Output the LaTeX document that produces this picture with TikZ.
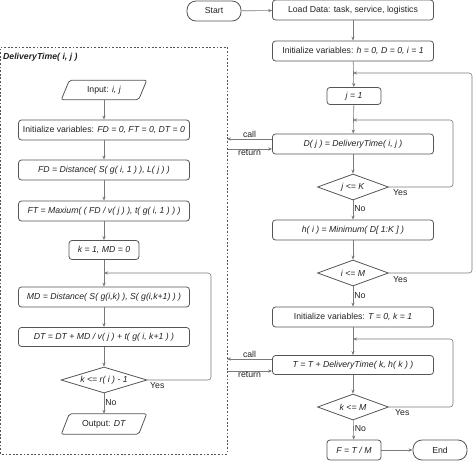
\documentclass[tikz,border=0pt]{standalone}
\usepackage{fontspec}
\setmainfont{Liberation Sans}
\usetikzlibrary{arrows.meta,shapes.geometric}
\definecolor{txt}{HTML}{222222}
\definecolor{bord}{HTML}{555555}
\definecolor{lin}{HTML}{7a7a7a}
\tikzset{
  fnt/.style={font=\fontsize{8.7}{10}\selectfont},
  box/.style={draw=bord,line width=0.8pt,rounded corners=3pt,inner sep=0pt,minimum height=20pt,text=txt,fnt},
  wbox/.style={box,minimum width=161pt},
  lbox/.style={box,minimum width=171pt},
  term/.style={box,rounded corners=9pt,minimum width=54pt},
  dia/.style={diamond,draw=bord,line width=0.8pt,inner sep=0pt,minimum width=71pt,minimum height=26pt,label={[lab]center:#1}},
  pg/.style={inner sep=0pt,minimum height=19pt,minimum width=85pt,text=txt,fnt},
  conn/.style={draw=lin,line width=0.6pt,-{Stealth[length=4pt,width=3.2pt]}},
  loopl/.style={conn,rounded corners=3pt},
  lab/.style={text=txt,fnt,inner sep=1pt},
}
\begin{document}
\begin{tikzpicture}[x=1pt,y=-1pt]
\useasboundingbox (0,0) rectangle (474,461);
% right column
\node[term] (start) at (214,11) {Start};
\node[wbox] (load) at (353,10) {Load Data: task, service, logistics};
\node[wbox] (inith) at (353,51) {Initialize variables: \textit{h = 0, D = 0, i = 1}};
\node[box,minimum width=54pt,minimum height=17pt] (j1) at (354,96) {\textit{j = 1}};
\node[wbox] (dj) at (353,144) {\textit{D( j ) = DeliveryTime( i, j )}};
\node[dia={\textit{j <= K}}] (jk) at (353,187) {};
\node[wbox] (hi) at (353,230) {\textit{h( i ) = Minimum( D[ 1:K ] )}};
\node[dia={\textit{i <= M}}] (im) at (353,273) {};
\node[wbox] (initt) at (353,317) {Initialize variables: \textit{T = 0, k = 1}};
\node[wbox,minimum height=19pt] (tt) at (353,365) {\textit{T = T + DeliveryTime( k, h( k ) )}};
\node[dia={\textit{k <= M}}] (km) at (353,407) {};
\node[box,minimum width=54pt] (ff) at (354,450) {\textit{F = T / M}};
\node[term] (end) at (440,450) {End};
\coordinate (m1) at (353,73);
\coordinate (m2) at (353,120);
\coordinate (m3) at (353,339);
\draw[conn] (start) -- (load);
\draw[conn] (load) -- (inith);
\draw[conn] (inith) -- (j1);
\draw[conn] (j1) -- (dj);
\draw[conn] (dj) -- (jk);
\draw[conn] (jk) -- node[lab,right,pos=0.45] {No} (hi);
\draw[conn] (hi) -- (im);
\draw[conn] (im) -- node[lab,right,pos=0.45] {No} (initt);
\draw[conn] (initt) -- (tt);
\draw[conn] (tt) -- (km);
\draw[conn] (km) -- node[lab,right,pos=0.45] {No} (ff);
\draw[conn] (ff) -- (end);
\draw[loopl] (im.east) -- (472,273) -- (472,73) -- (m1);
\draw[loopl] (jk.east) -- (453,187) -- (453,120) -- (m2);
\draw[loopl] (km.east) -- (453,407) -- (453,339) -- (m3);
\node[lab,anchor=west] at (392,193) {Yes};
\node[lab,anchor=west] at (392,280) {Yes};
\node[lab,anchor=west] at (394,413) {Yes};
% call / return
\coordinate (c1) at (227,139);
\coordinate (r1) at (227,149);
\coordinate (c2) at (227,359);
\coordinate (r2) at (227,371);
\draw[conn] (dj.west |- c1) -- node[lab,above] {call} (c1);
\draw[conn] (r1) -- node[lab,below] {return} (dj.west |- r1);
\draw[conn] (tt.west |- c2) -- node[lab,above] {call} (c2);
\draw[conn] (r2) -- node[lab,below] {return} (tt.west |- r2);
% dashed function box
\draw[draw=bord,line width=0.8pt,dash pattern=on 1.8pt off 1.8pt] (0.5,47) -- (227,47) -- (227,454) -- (0.5,454) -- cycle;
\node[lab,anchor=west,font=\fontsize{8.7}{10}\selectfont\bfseries\itshape] (title) at (2,57) {DeliveryTime( i, j )};
% left column
\node[pg] (in) at (104,90) {Input: \textit{i, j}};
\draw[draw=bord,line width=0.8pt,rounded corners=2pt] (in.south west) -- ([xshift=8pt]in.north west) -- (in.north east) -- ([xshift=-8pt]in.south east) -- cycle;
\node[lbox] (initfd) at (104,130) {Initialize variables: \textit{FD = 0, FT = 0, DT = 0}};
\node[lbox] (fd) at (104,170) {\textit{FD = Distance( S( g( i, 1 ) ), L( j ) )}};
\node[lbox] (ft) at (104,211) {\textit{FT = Maxium( ( FD / v( j ) ), t( g( i, 1 ) ) )}};
\node[box,minimum width=70pt,minimum height=19pt] (k1) at (104,250) {\textit{k = 1, MD = 0}};
\node[lbox] (md) at (104,297) {\textit{MD = Distance( S( g(i,k) ), S( g(i,k+1) ) )}};
\node[lbox,minimum height=19pt] (dt) at (104,337) {\textit{DT = DT + MD / v( j ) + t( g( i, k+1 ) )}};
\node[dia={\textit{k <= r( i ) - 1}},minimum width=86pt] (kr) at (104,380) {};
\node[pg,minimum height=20pt] (out) at (104,424) {Output: \textit{DT}};
\draw[draw=bord,line width=0.8pt,rounded corners=2pt] (out.south west) -- ([xshift=8pt]out.north west) -- (out.north east) -- ([xshift=-8pt]out.south east) -- cycle;
\coordinate (m4) at (104,273);
\draw[conn] (in) -- (initfd);
\draw[conn] (initfd) -- (fd);
\draw[conn] (fd) -- (ft);
\draw[conn] (ft) -- (k1);
\draw[conn] (k1) -- (md);
\draw[conn] (md) -- (dt);
\draw[conn] (dt) -- (kr);
\draw[conn] (kr) -- node[lab,right,pos=0.45] {No} (out);
\draw[loopl] (kr.east) -- (211,380) -- (211,273) -- (m4);
\node[lab,anchor=west] at (149,386) {Yes};
\end{tikzpicture}
\end{document}
